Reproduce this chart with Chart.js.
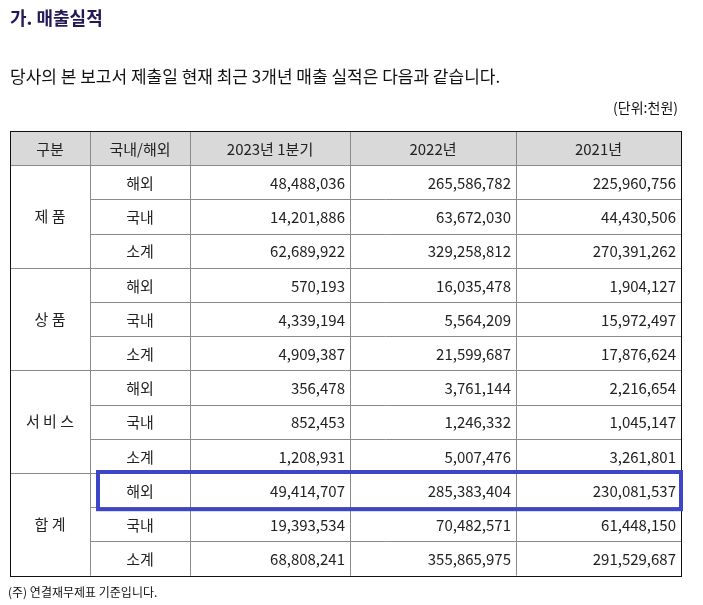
<!DOCTYPE html>
<html><head><meta charset="utf-8">
<script src="https://cdn.jsdelivr.net/npm/chart.js@4"></script>
<style>html,body{margin:0;background:#fff}#wrap{width:703px;height:605px}</style>
</head><body><div id="wrap"><canvas id="c" width="703" height="605"></canvas></div>
<script>
// table content
const headers = ['구분', '국내/해외', '2023년 1분기', '2022년', '2021년'];
const groups = ['제품', '상품', '서비스', '합계'];
const subRows = ['해외', '국내', '소계'];
const q2023 = [48488036, 14201886, 62689922, 570193, 4339194, 4909387, 356478, 852453, 1208931, 49414707, 19393534, 68808241];
const y2022 = [265586782, 63672030, 329258812, 16035478, 5564209, 21599687, 3761144, 1246332, 5007476, 285383404, 70482571, 355865975];
const y2021 = [225960756, 44430506, 270391262, 1904127, 15972497, 17876624, 2216654, 1045147, 3261801, 230081537, 61448150, 291529687];

// layout (page pixels, used as the scale domain)
const colEdges = [10, 90, 190, 350, 516, 681];
const tableTop = 131, rowH = 34.2;
const FONT = "'Noto Sans CJK KR', sans-serif";

const tablePlugin = {
  id: 'table',
  afterDraw(chart) {
    const { ctx, scales: { x, y } } = chart;
    const X = (v) => x.getPixelForValue(v), Y = (v) => y.getPixelForValue(v);
    const rowY = (i) => Y(tableTop + i * rowH);
    const nRows = 1 + groups.length * subRows.length;
    ctx.save();
    // texts around the table
    ctx.fillStyle = '#221a55';
    ctx.font = 'bold 18px ' + FONT;
    ctx.textBaseline = 'middle';
    ctx.fillText('가. 매출실적', X(10), Y(18));
    ctx.fillStyle = '#111';
    ctx.font = '17px ' + FONT;
    ctx.fillText('당사의 본 보고서 제출일 현재 최근 3개년 매출 실적은 다음과 같습니다.', X(10), Y(77));
    ctx.font = '14px ' + FONT;
    ctx.textAlign = 'right';
    ctx.fillText('(단위:천원)', X(678), Y(108));
    ctx.textAlign = 'left';
    ctx.font = '12px ' + FONT;
    ctx.fillText('(주) 연결재무제표 기준입니다.', X(8), Y(592));

    // header bg
    ctx.fillStyle = '#d9d9d9';
    ctx.fillRect(X(colEdges[0]), rowY(0), X(colEdges[5]) - X(colEdges[0]), rowY(1) - rowY(0));
    // grid lines
    ctx.strokeStyle = '#8a8a8a';
    ctx.lineWidth = 1;
    ctx.beginPath();
    for (let r = 1; r < nRows; r++) {
      const yy = Math.round(rowY(r)) + 0.5;
      const groupLine = (r - 1) % subRows.length === 0;
      ctx.moveTo(X(groupLine ? colEdges[0] : colEdges[1]), yy);
      ctx.lineTo(X(colEdges[5]), yy);
    }
    for (let c = 1; c < colEdges.length - 1; c++) {
      const xx = Math.round(X(colEdges[c])) + 0.5;
      ctx.moveTo(xx, rowY(0)); ctx.lineTo(xx, rowY(nRows));
    }
    ctx.stroke();
    ctx.strokeStyle = '#111';
    ctx.strokeRect(Math.round(X(colEdges[0])) + 0.5, Math.round(rowY(0)) + 0.5,
      Math.round(X(colEdges[5]) - X(colEdges[0])), Math.round(rowY(nRows) - rowY(0)));

    // header text
    ctx.fillStyle = '#222';
    ctx.font = '15px ' + FONT;
    ctx.textAlign = 'center';
    headers.forEach((h, c) => ctx.fillText(h, (X(colEdges[c]) + X(colEdges[c + 1])) / 2, (rowY(0) + rowY(1)) / 2 + 1));
    // body
    const cols = [q2023, y2022, y2021];
    groups.forEach((g, gi) => {
      const r0 = 1 + gi * subRows.length;
      ctx.textAlign = 'center';
      ctx.fillText(g.split('').join(' '), (X(colEdges[0]) + X(colEdges[1])) / 2, (rowY(r0) + rowY(r0 + subRows.length)) / 2);
      subRows.forEach((s, si) => {
        const r = r0 + si, cy = (rowY(r) + rowY(r + 1)) / 2 + 1;
        ctx.textAlign = 'center';
        ctx.fillText(s, (X(colEdges[1]) + X(colEdges[2])) / 2, cy);
        ctx.textAlign = 'right';
        cols.forEach((arr, ci) => ctx.fillText(arr[r - 1].toLocaleString('en-US'), X(colEdges[ci + 3]) - 5, cy));
      });
    });
    // highlight on 합계 / 해외
    const hr = 1 + 3 * subRows.length;
    ctx.strokeStyle = '#3d45c8';
    ctx.lineWidth = 4;
    ctx.strokeRect(X(98), rowY(hr) - 1, X(681) - X(98), rowY(hr + 1) - rowY(hr) + 3);
    ctx.restore();
  }
};

new Chart(document.getElementById('c'), {
  type: 'scatter',
  data: { datasets: [{ data: [] }] },
  options: {
    responsive: false, animation: false, events: [],
    layout: { padding: 0 },
    plugins: { legend: { display: false }, tooltip: { enabled: false } },
    scales: {
      x: { type: 'linear', min: 0, max: 703, display: false },
      y: { type: 'linear', min: 0, max: 605, reverse: true, display: false }
    }
  },
  plugins: [tablePlugin]
});
</script></body></html>
